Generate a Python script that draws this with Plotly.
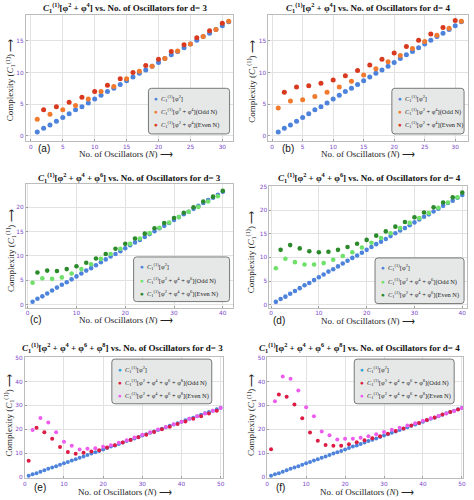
import plotly.graph_objects as go

# ---------------- data ----------------
N_all = list(range(1, 51))
C_phi2 = [0.6, 1.2, 1.7, 2.3, 2.9, 3.5, 4.1, 4.6, 5.2, 5.8,
          6.4, 7.0, 7.5, 8.1, 8.7, 9.3, 9.9, 10.4, 11.0, 11.6,
          12.2, 12.8, 13.3, 13.9, 14.5, 15.1, 15.7, 16.2, 16.8, 17.4,
          18.0, 18.6, 19.1, 19.7, 20.3, 20.9, 21.5, 22.0, 22.6, 23.2,
          23.8, 24.4, 24.9, 25.5, 26.1, 26.7, 27.3, 27.8, 28.4, 29.0]

N_odd_31 = [1, 3, 5, 7, 9, 11, 13, 15, 17, 19, 21, 23, 25, 27, 29, 31]
N_even_30 = [2, 4, 6, 8, 10, 12, 14, 16, 18, 20, 22, 24, 26, 28, 30]
N_odd_39 = [1, 3, 5, 7, 9, 11, 13, 15, 17, 19, 21, 23, 25, 27, 29, 31, 33, 35, 37, 39]
N_even_40 = [2, 4, 6, 8, 10, 12, 14, 16, 18, 20, 22, 24, 26, 28, 30, 32, 34, 36, 38, 40]
N_odd_49 = [1, 3, 5, 7, 9, 11, 13, 15, 17, 19, 21, 23, 25, 27, 29, 31, 33, 35, 37, 39,
            41, 43, 45, 47, 49]
N_even_50 = [2, 4, 6, 8, 10, 12, 14, 16, 18, 20, 22, 24, 26, 28, 30, 32, 34, 36, 38, 40,
             42, 44, 46, 48, 50]

# (a) phi^2+phi^4, d=3
a_odd = [2.6, 3.4, 4.1, 4.8, 5.8, 7.0, 7.8, 9.0, 10.2, 11.0, 12.2, 13.4, 14.5, 15.7, 16.8, 18.1]
a_even = [4.1, 4.6, 5.3, 6.1, 7.0, 8.0, 9.0, 10.0, 11.1, 12.1, 13.3, 14.4, 15.5, 16.6, 17.8]
# (b) phi^2+phi^4, d=4
b_odd = [4.4, 5.5, 5.7, 6.2, 6.9, 7.7, 8.6, 9.6, 10.6, 11.7, 12.7, 13.8, 14.9, 15.9, 17.0, 18.1]
b_even = [6.9, 7.7, 7.9, 8.3, 8.8, 9.5, 10.3, 11.2, 12.1, 13.1, 14.1, 15.1, 16.1, 17.1, 18.2]
# (c) phi^2+phi^4+phi^6, d=3
c_odd = [4.5, 5.4, 5.3, 5.6, 6.4, 7.3, 8.3, 9.4, 10.4, 11.5, 12.5, 13.6, 14.7, 15.8, 16.9,
         18.0, 19.1, 20.1, 21.2, 22.3]
c_even = [6.6, 7.0, 6.9, 7.3, 7.9, 8.6, 9.5, 10.4, 11.5, 12.5, 13.6, 14.6, 15.7, 16.8, 17.8,
          18.9, 20.0, 21.2, 22.2, 23.4]
# (d) phi^2+phi^4+phi^6, d=4
d_odd = [7.7, 9.7, 9.0, 8.5, 8.5, 8.8, 9.5, 10.3, 11.1, 12.1, 13.1, 14.1, 15.1, 16.2, 17.3,
         18.3, 19.4, 20.5, 21.6, 22.7]
d_even = [11.6, 12.6, 11.9, 11.3, 11.1, 11.2, 11.6, 12.2, 12.9, 13.7, 14.6, 15.5, 16.5, 17.5,
          18.5, 19.5, 20.6, 21.6, 22.7, 23.7]
# (e) phi^2+phi^4+phi^6+phi^8, d=3
e_odd = [6.9, 20.7, 18.8, 16.1, 12.6, 10.5, 9.8, 10.2, 10.8, 11.3, 12.4, 13.4, 14.5, 15.6,
         16.7, 17.8, 18.9, 20.0, 21.1, 22.2, 23.3, 24.4, 25.5, 26.6, 27.8]
e_even = [19.7, 24.8, 22.9, 18.8, 14.8, 13.2, 11.6, 11.9, 12.1, 12.7, 13.4, 14.4, 15.5, 16.6,
          17.7, 18.8, 19.9, 21.0, 22.1, 23.2, 24.4, 25.5, 26.6, 27.8, 28.9]
# (f) phi^2+phi^4+phi^6+phi^8, d=4
f_odd = [11.7, 34.6, 33.6, 30.4, 24.7, 18.7, 15.2, 13.5, 13.1, 13.2, 13.8, 14.6, 15.4, 16.3,
         17.1, 18.2, 19.3, 20.4, 21.6, 22.7, 23.9, 25.0, 26.2, 27.3, 28.3]
f_even = [31.8, 42.1, 41.2, 36.2, 29.2, 25.5, 19.1, 17.5, 15.8, 16.1, 16.1, 16.5, 17.1, 18.0,
          18.9, 19.8, 20.7, 21.6, 22.6, 23.6, 24.6, 25.6, 26.6, 27.7, 28.9]

panel_letters = ["(a)", "(b)", "(c)", "(d)", "(e)", "(f)"]
dims = [3, 4, 3, 4, 3, 4]
x_ticks = [[0, 5, 10, 15, 20, 25, 30], [0, 5, 10, 15, 20, 25, 30],
           [0, 10, 20, 30, 40], [0, 10, 20, 30, 40],
           [0, 10, 20, 30, 40, 50], [0, 10, 20, 30, 40, 50]]
y_ticks = [[0, 5, 10, 15], [0, 5, 10, 15],
           [0, 5, 10, 15, 20], [0, 5, 10, 15, 20, 25],
           [0, 10, 20, 30, 40, 50], [0, 10, 20, 30, 40, 50]]

# ---------------- styling / layout ----------------
W, H = 474, 500
PH2 = "φ<sup>2</sup>"
terms = [PH2 + " + φ<sup>4</sup>", PH2 + " + φ<sup>4</sup>",
         PH2 + " + φ<sup>4</sup> + φ<sup>6</sup>", PH2 + " + φ<sup>4</sup> + φ<sup>6</sup>",
         PH2 + " + φ<sup>4</sup> + φ<sup>6</sup> + φ<sup>8</sup>",
         PH2 + " + φ<sup>4</sup> + φ<sup>6</sup> + φ<sup>8</sup>"]
CC = "<i>C</i><sub>1</sub><sup>(1)</sup>"

# plot frames in pixels: (left, right, top, bottom)
frames = [(24, 233, 13, 140), (269, 471, 13, 140),
          (24, 233, 183, 308), (270, 470, 185, 308),
          (23, 223, 358, 480), (268, 466, 358, 480)]
x_ranges = [[-0.8, 31.6], [-0.65, 32.1], [-0.4, 42.0], [-0.4, 41.0], [0, 50.5], [0, 50.3]]
y_ranges = [[-0.8, 19.1], [-0.8, 19.1], [-0.6, 24.9], [-0.6, 25.2], [-0.4, 50.2], [-0.4, 50.2]]
title_pos = [(124, 6), (370, 6), (129, 177), (371, 177), (122, 348), (361, 348)]
xt_pos = [(125, 153.5), (370, 153.5), (125, 321), (370, 322), (124, 494), (369, 494)]
yt_pos = [(8, 78), (252, 80), (8, 250), (252, 252), (7, 416), (252, 416)]
lab_pos = [(42, 148), (289, 148), (34, 320), (280, 321), (38, 489), (281, 489)]
# legend box corners (left, top, right, bottom) in pixels
leg_box = [(148, 87, 230, 133), (394, 87, 467, 133), (133, 257, 230, 302),
           (377, 258, 467, 304), (111, 360, 212, 405), (356, 360, 457, 405)]

colors = [("#F17A2E", "#D93A1F"), ("#F17A2E", "#D93A1F"),
          ("#6FE06A", "#2C8A2C"), ("#6FE06A", "#2C8A2C"),
          ("#DC1C45", "#EE5CEE"), ("#DC1C45", "#EE5CEE")]
BLUE = "#4E83DC"
LEG_BLUE = ["#4E83DC", "#4E83DC", "#4E83DC", "#4E83DC", "#2FA3D6", "#2FA3D6"]
msize = [5, 5, 4.6, 4.6, 4.0, 4.0]

odd_N = [N_odd_31, N_odd_31, N_odd_39, N_odd_39, N_odd_49, N_odd_49]
even_N = [N_even_30, N_even_30, N_even_40, N_even_40, N_even_50, N_even_50]
odd_vals = [a_odd, b_odd, c_odd, d_odd, e_odd, f_odd]
even_vals = [a_even, b_even, c_even, d_even, e_even, f_even]
n_base = [31, 31, 40, 40, 50, 50]

SERIF = "Liberation Serif"
fig = go.Figure()
annotations = []
shapes = []
layout = dict(width=W, height=H, margin=dict(l=0, r=0, t=0, b=0),
              paper_bgcolor="white", plot_bgcolor="white", showlegend=False)


def px2x(p):
    return p / W


def px2y(p):
    return 1 - p / H


def rounded_box(l, t, r, b, rad=3.0):
    x0, x1 = px2x(l), px2x(r)
    y0, y1 = px2y(b), px2y(t)
    rx, ry = rad / W, rad / H
    return (f"M {x0 + rx},{y1} L {x1 - rx},{y1} Q {x1},{y1} {x1},{y1 - ry} "
            f"L {x1},{y0 + ry} Q {x1},{y0} {x1 - rx},{y0} L {x0 + rx},{y0} "
            f"Q {x0},{y0} {x0},{y0 + ry} L {x0},{y1 - ry} Q {x0},{y1} {x0 + rx},{y1} Z")


for i in range(6):
    k = "" if i == 0 else str(i + 1)
    xa, ya = "x" + k, "y" + k
    L, R, T, B = frames[i]
    axis_style = dict(showgrid=True, gridcolor="#e2e2e2", gridwidth=0.8,
                      zeroline=False, showline=True, linecolor="#bcbcbc", linewidth=0.8,
                      mirror=True, ticks="inside", ticklen=2, tickcolor="#a0a0a0",
                      tickfont=dict(family="DejaVu Sans", size=5.8, color="#7B46C9"))
    layout["xaxis" + k] = dict(domain=[px2x(L), px2x(R)], range=x_ranges[i], anchor=ya,
                               tickvals=x_ticks[i], **axis_style)
    layout["yaxis" + k] = dict(domain=[px2y(B), px2y(T)], range=y_ranges[i], anchor=xa,
                               tickvals=y_ticks[i], **axis_style)

    ms = msize[i]
    names = [CC + "[" + PH2 + "]",
             CC + "[" + terms[i] + "](Odd N)",
             CC + "[" + terms[i] + "](Even N)"]
    fig.add_trace(go.Scatter(x=N_all[:n_base[i]], y=C_phi2[:n_base[i]], mode="markers",
                             marker=dict(color=BLUE, size=ms), xaxis=xa, yaxis=ya,
                             name=names[0]))
    fig.add_trace(go.Scatter(x=odd_N[i], y=odd_vals[i], mode="markers",
                             marker=dict(color=colors[i][0], size=ms), xaxis=xa, yaxis=ya,
                             name=names[1]))
    fig.add_trace(go.Scatter(x=even_N[i], y=even_vals[i], mode="markers",
                             marker=dict(color=colors[i][1], size=ms), xaxis=xa, yaxis=ya,
                             name=names[2]))

    # legend box (drawn as shape + text rows)
    lb = leg_box[i]
    shapes.append(dict(type="path", xref="paper", yref="paper",
                       path=rounded_box(*lb), fillcolor="#E6E8E8",
                       line=dict(color="#6a6a6a", width=0.9), layer="above"))
    sym_cols = [LEG_BLUE[i], colors[i][0], colors[i][1]]
    for j in range(3):
        row_y = lb[1] + 10 + 13.3 * j
        annotations.append(dict(
            x=px2x(lb[0] + 4), y=px2y(row_y), xref="paper", yref="paper", showarrow=False,
            text="<span style='color:" + sym_cols[j] + "'>●</span>  " + names[j],
            font=dict(family=SERIF, size=6.4, color="#222"), xanchor="left", yanchor="middle"))

    tx, ty = title_pos[i]
    annotations.append(dict(
        x=px2x(tx), y=px2y(ty), xref="paper", yref="paper", showarrow=False,
        text="<b>" + CC + "[" + terms[i] + "] vs. No. of Oscillators for d= " + str(dims[i]) + "</b>",
        font=dict(family=SERIF, size=9.0, color="#111"), xanchor="center", yanchor="middle"))
    xx, xy = xt_pos[i]
    annotations.append(dict(
        x=px2x(xx), y=px2y(xy), xref="paper", yref="paper", showarrow=False,
        text="No. of Oscillators (<i>N</i>) ⟶",
        font=dict(family=SERIF, size=9, color="#222"), xanchor="center", yanchor="middle"))
    yx, yy = yt_pos[i]
    annotations.append(dict(
        x=px2x(yx), y=px2y(yy), xref="paper", yref="paper", showarrow=False,
        text="Complexity (" + CC + ") ⟶", textangle=-90,
        font=dict(family=SERIF, size=9, color="#222"), xanchor="center", yanchor="middle"))
    lx, ly = lab_pos[i]
    annotations.append(dict(
        x=px2x(lx), y=px2y(ly), xref="paper", yref="paper", showarrow=False,
        text=panel_letters[i],
        font=dict(family="Liberation Sans", size=10, color="#111"), xanchor="center", yanchor="middle"))

layout["annotations"] = annotations
layout["shapes"] = shapes
fig.update_layout(**layout)
fig.write_html("out.html", config={"displayModeBar": False},
               post_script="document.body.style.margin='0';document.body.style.overflow='hidden';")
